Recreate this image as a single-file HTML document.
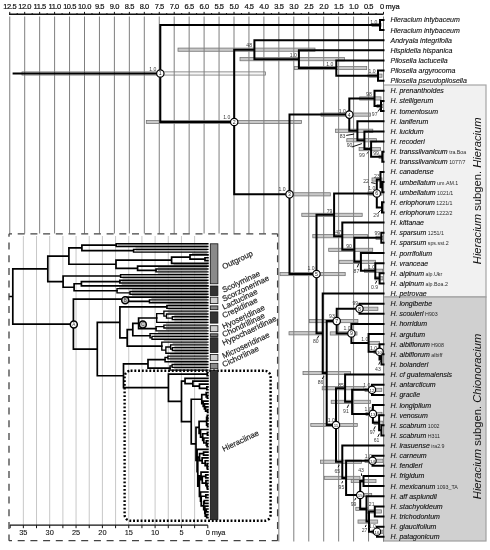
<!DOCTYPE html>
<html><head><meta charset="utf-8"><style>
html,body{margin:0;padding:0;background:#fff;}
svg{display:block;}
</style></head><body>
<svg width="490" height="550" viewBox="0 0 490 550" font-family="Liberation Sans, Arial, sans-serif">
<rect width="490" height="550" fill="#fff"/>
<rect x="383.6" y="85" width="102.4" height="212" fill="#f1f1f1" stroke="#a6a6a6" stroke-width="1.2"/>
<rect x="383.6" y="297" width="102.4" height="244" fill="#d0d0d0" stroke="#a0a0a0" stroke-width="1.2"/>
<line x1="9.0" y1="14.2" x2="383.5" y2="14.2" stroke="#111" stroke-width="1.4"/><line x1="383.50" y1="11.90" x2="383.50" y2="14.2" stroke="#111" stroke-width="1"/><line x1="376.02" y1="13.00" x2="376.02" y2="14.2" stroke="#111" stroke-width="1"/><line x1="368.55" y1="11.90" x2="368.55" y2="14.2" stroke="#111" stroke-width="1"/><line x1="361.07" y1="13.00" x2="361.07" y2="14.2" stroke="#111" stroke-width="1"/><line x1="353.60" y1="11.90" x2="353.60" y2="14.2" stroke="#111" stroke-width="1"/><line x1="346.12" y1="13.00" x2="346.12" y2="14.2" stroke="#111" stroke-width="1"/><line x1="338.65" y1="11.90" x2="338.65" y2="14.2" stroke="#111" stroke-width="1"/><line x1="331.18" y1="13.00" x2="331.18" y2="14.2" stroke="#111" stroke-width="1"/><line x1="323.70" y1="11.90" x2="323.70" y2="14.2" stroke="#111" stroke-width="1"/><line x1="316.23" y1="13.00" x2="316.23" y2="14.2" stroke="#111" stroke-width="1"/><line x1="308.75" y1="11.90" x2="308.75" y2="14.2" stroke="#111" stroke-width="1"/><line x1="301.27" y1="13.00" x2="301.27" y2="14.2" stroke="#111" stroke-width="1"/><line x1="293.80" y1="11.90" x2="293.80" y2="14.2" stroke="#111" stroke-width="1"/><line x1="286.32" y1="13.00" x2="286.32" y2="14.2" stroke="#111" stroke-width="1"/><line x1="278.85" y1="11.90" x2="278.85" y2="14.2" stroke="#111" stroke-width="1"/><line x1="271.38" y1="13.00" x2="271.38" y2="14.2" stroke="#111" stroke-width="1"/><line x1="263.90" y1="11.90" x2="263.90" y2="14.2" stroke="#111" stroke-width="1"/><line x1="256.43" y1="13.00" x2="256.43" y2="14.2" stroke="#111" stroke-width="1"/><line x1="248.95" y1="11.90" x2="248.95" y2="14.2" stroke="#111" stroke-width="1"/><line x1="241.47" y1="13.00" x2="241.47" y2="14.2" stroke="#111" stroke-width="1"/><line x1="234.00" y1="11.90" x2="234.00" y2="14.2" stroke="#111" stroke-width="1"/><line x1="226.53" y1="13.00" x2="226.53" y2="14.2" stroke="#111" stroke-width="1"/><line x1="219.05" y1="11.90" x2="219.05" y2="14.2" stroke="#111" stroke-width="1"/><line x1="211.58" y1="13.00" x2="211.58" y2="14.2" stroke="#111" stroke-width="1"/><line x1="204.10" y1="11.90" x2="204.10" y2="14.2" stroke="#111" stroke-width="1"/><line x1="196.62" y1="13.00" x2="196.62" y2="14.2" stroke="#111" stroke-width="1"/><line x1="189.15" y1="11.90" x2="189.15" y2="14.2" stroke="#111" stroke-width="1"/><line x1="181.68" y1="13.00" x2="181.68" y2="14.2" stroke="#111" stroke-width="1"/><line x1="174.20" y1="11.90" x2="174.20" y2="14.2" stroke="#111" stroke-width="1"/><line x1="166.73" y1="13.00" x2="166.73" y2="14.2" stroke="#111" stroke-width="1"/><line x1="159.25" y1="11.90" x2="159.25" y2="14.2" stroke="#111" stroke-width="1"/><line x1="151.78" y1="13.00" x2="151.78" y2="14.2" stroke="#111" stroke-width="1"/><line x1="144.30" y1="11.90" x2="144.30" y2="14.2" stroke="#111" stroke-width="1"/><line x1="136.83" y1="13.00" x2="136.83" y2="14.2" stroke="#111" stroke-width="1"/><line x1="129.35" y1="11.90" x2="129.35" y2="14.2" stroke="#111" stroke-width="1"/><line x1="121.88" y1="13.00" x2="121.88" y2="14.2" stroke="#111" stroke-width="1"/><line x1="114.40" y1="11.90" x2="114.40" y2="14.2" stroke="#111" stroke-width="1"/><line x1="106.93" y1="13.00" x2="106.93" y2="14.2" stroke="#111" stroke-width="1"/><line x1="99.45" y1="11.90" x2="99.45" y2="14.2" stroke="#111" stroke-width="1"/><line x1="91.98" y1="13.00" x2="91.98" y2="14.2" stroke="#111" stroke-width="1"/><line x1="84.50" y1="11.90" x2="84.50" y2="14.2" stroke="#111" stroke-width="1"/><line x1="77.03" y1="13.00" x2="77.03" y2="14.2" stroke="#111" stroke-width="1"/><line x1="69.55" y1="11.90" x2="69.55" y2="14.2" stroke="#111" stroke-width="1"/><line x1="62.07" y1="13.00" x2="62.07" y2="14.2" stroke="#111" stroke-width="1"/><line x1="54.60" y1="11.90" x2="54.60" y2="14.2" stroke="#111" stroke-width="1"/><line x1="47.12" y1="13.00" x2="47.12" y2="14.2" stroke="#111" stroke-width="1"/><line x1="39.65" y1="11.90" x2="39.65" y2="14.2" stroke="#111" stroke-width="1"/><line x1="32.18" y1="13.00" x2="32.18" y2="14.2" stroke="#111" stroke-width="1"/><line x1="24.70" y1="11.90" x2="24.70" y2="14.2" stroke="#111" stroke-width="1"/><line x1="17.23" y1="13.00" x2="17.23" y2="14.2" stroke="#111" stroke-width="1"/><line x1="9.75" y1="11.90" x2="9.75" y2="14.2" stroke="#111" stroke-width="1"/>
<g font-size="7.5" letter-spacing="-0.45" fill="#111" stroke="#111" stroke-width="0.2"><text x="381.80" y="9.3" text-anchor="middle">0</text><text x="368.55" y="9.3" text-anchor="middle">0.5</text><text x="353.60" y="9.3" text-anchor="middle">1.0</text><text x="338.65" y="9.3" text-anchor="middle">1.5</text><text x="323.70" y="9.3" text-anchor="middle">2.0</text><text x="308.75" y="9.3" text-anchor="middle">2.5</text><text x="293.80" y="9.3" text-anchor="middle">3.0</text><text x="278.85" y="9.3" text-anchor="middle">3.5</text><text x="263.90" y="9.3" text-anchor="middle">4.0</text><text x="248.95" y="9.3" text-anchor="middle">4.5</text><text x="234.00" y="9.3" text-anchor="middle">5.0</text><text x="219.05" y="9.3" text-anchor="middle">5.5</text><text x="204.10" y="9.3" text-anchor="middle">6.0</text><text x="189.15" y="9.3" text-anchor="middle">6.5</text><text x="174.20" y="9.3" text-anchor="middle">7.0</text><text x="159.25" y="9.3" text-anchor="middle">7.5</text><text x="144.30" y="9.3" text-anchor="middle">8.0</text><text x="129.35" y="9.3" text-anchor="middle">8.5</text><text x="114.40" y="9.3" text-anchor="middle">9.0</text><text x="99.45" y="9.3" text-anchor="middle">9.5</text><text x="84.50" y="9.3" text-anchor="middle">10.0</text><text x="69.55" y="9.3" text-anchor="middle">10.5</text><text x="54.60" y="9.3" text-anchor="middle">11.0</text><text x="39.65" y="9.3" text-anchor="middle">11.5</text><text x="24.70" y="9.3" text-anchor="middle">12.0</text><text x="9.75" y="9.3" text-anchor="middle">12.5</text><text x="385.50" y="9.3" letter-spacing="0">mya</text></g>
<g fill="#c8c8c8" stroke="#707070" stroke-width="0.75"><rect x="22.0" y="71.88" width="243.6" height="3.2" fill="#f6f6f6"/><rect x="372.0" y="23.37" width="9.0" height="3.2"/><rect x="146.3" y="120.40" width="155.2" height="3.2"/><rect x="178.0" y="48.07" width="137.0" height="3.2"/><rect x="240.0" y="57.57" width="104.4" height="3.2"/><rect x="294.5" y="66.44" width="72.2" height="3.2"/><rect x="368.0" y="74.04" width="14.0" height="3.2"/><rect x="292.0" y="192.73" width="38.3" height="3.2"/><rect x="321.0" y="113.00" width="49.4" height="3.2"/><rect x="359.7" y="96.85" width="21.3" height="3.2"/><rect x="377.0" y="104.45" width="6.0" height="3.2"/><rect x="335.6" y="129.15" width="37.2" height="3.2"/><rect x="346.8" y="138.65" width="29.7" height="3.2"/><rect x="359.1" y="147.52" width="21.4" height="3.2"/><rect x="379.0" y="155.12" width="4.5" height="3.2"/><rect x="280.0" y="272.47" width="65.2" height="3.2"/><rect x="301.8" y="213.24" width="60.4" height="3.2"/><rect x="368.0" y="191.86" width="14.0" height="3.2"/><rect x="372.0" y="177.93" width="10.0" height="3.2"/><rect x="312.8" y="234.62" width="54.8" height="3.2"/><rect x="328.7" y="248.24" width="44.0" height="3.2"/><rect x="376.0" y="236.20" width="7.0" height="3.2"/><rect x="339.1" y="260.27" width="36.4" height="3.2"/><rect x="364.5" y="269.14" width="18.2" height="3.2"/><rect x="375.0" y="276.74" width="8.0" height="3.2"/><rect x="289.0" y="331.69" width="34.0" height="3.2"/><rect x="309.3" y="319.50" width="48.6" height="3.2"/><rect x="359.6" y="307.15" width="18.3" height="3.2"/><rect x="330.2" y="331.85" width="26.8" height="3.2"/><rect x="368.3" y="341.35" width="11.3" height="3.2"/><rect x="374.0" y="350.22" width="9.0" height="3.2"/><rect x="303.0" y="371.44" width="47.6" height="3.2"/><rect x="322.2" y="386.64" width="41.7" height="3.2"/><rect x="331.2" y="400.26" width="39.2" height="3.2"/><rect x="365.0" y="388.23" width="16.8" height="3.2"/><rect x="366.0" y="412.30" width="16.0" height="3.2"/><rect x="374.0" y="421.17" width="9.0" height="3.2"/><rect x="310.8" y="423.38" width="46.5" height="3.2"/><rect x="320.5" y="460.12" width="41.1" height="3.2"/><rect x="324.3" y="476.28" width="35.7" height="3.2"/><rect x="365.0" y="459.17" width="18.0" height="3.2"/><rect x="360.0" y="493.38" width="11.7" height="3.2"/><rect x="351.2" y="479.44" width="24.8" height="3.2"/><rect x="355.8" y="507.31" width="11.2" height="3.2"/><rect x="358.0" y="519.98" width="19.7" height="3.2"/><rect x="366.7" y="509.85" width="14.8" height="3.2"/><rect x="372.0" y="530.12" width="11.0" height="3.2"/></g>
<g stroke="#7f7f7f" stroke-width="1.0"><line x1="383.50" y1="16.5" x2="383.50" y2="541.5" /><line x1="368.55" y1="16.5" x2="368.55" y2="541.5" /><line x1="353.60" y1="16.5" x2="353.60" y2="541.5" /><line x1="338.65" y1="16.5" x2="338.65" y2="541.5" /><line x1="323.70" y1="16.5" x2="323.70" y2="541.5" /><line x1="308.75" y1="16.5" x2="308.75" y2="541.5" /><line x1="293.80" y1="16.5" x2="293.80" y2="541.5" /><line x1="278.85" y1="16.5" x2="278.85" y2="541.5" /><line x1="263.90" y1="16.5" x2="263.90" y2="234" /><line x1="248.95" y1="16.5" x2="248.95" y2="234" /><line x1="234.00" y1="16.5" x2="234.00" y2="234" /><line x1="219.05" y1="16.5" x2="219.05" y2="234" /><line x1="204.10" y1="16.5" x2="204.10" y2="234" /><line x1="189.15" y1="16.5" x2="189.15" y2="234" /><line x1="174.20" y1="16.5" x2="174.20" y2="234" /><line x1="159.25" y1="16.5" x2="159.25" y2="234" /><line x1="144.30" y1="16.5" x2="144.30" y2="234" /><line x1="129.35" y1="16.5" x2="129.35" y2="234" /><line x1="114.40" y1="16.5" x2="114.40" y2="234" /><line x1="99.45" y1="16.5" x2="99.45" y2="234" /><line x1="84.50" y1="16.5" x2="84.50" y2="234" /><line x1="69.55" y1="16.5" x2="69.55" y2="234" /><line x1="54.60" y1="16.5" x2="54.60" y2="234" /><line x1="39.65" y1="16.5" x2="39.65" y2="234" /><line x1="24.70" y1="16.5" x2="24.70" y2="234" /><line x1="9.75" y1="16.5" x2="9.75" y2="234" /></g>
<path d="M160.30 24.97V122.00M160.30 24.97H380.00M160.30 122.00H234.20M380.00 19.90V30.03M380.00 19.90H383.50M380.00 30.03H383.50M234.20 49.67V194.33M234.20 49.67H254.40M234.20 194.33H289.50M254.40 40.17V59.17M254.40 40.17H383.50M254.40 59.17H298.90M298.90 50.30V68.04M298.90 50.30H383.50M298.90 68.04H336.30M336.30 60.44V75.64M336.30 60.44H383.50M336.30 75.64H378.00M378.00 70.57V80.71M378.00 70.57H383.50M378.00 80.71H383.50M289.50 114.60V274.07M289.50 114.60H349.30M289.50 274.07H316.50M349.30 98.45V130.75M349.30 98.45H374.50M349.30 130.75H357.40M374.50 90.84V106.05M374.50 90.84H383.50M374.50 106.05H381.00M381.00 100.98V111.12M381.00 100.98H383.50M381.00 111.12H383.50M357.40 121.25V140.25M357.40 121.25H383.50M357.40 140.25H364.40M364.40 131.38V149.12M364.40 131.38H383.50M364.40 149.12H371.10M371.10 141.52V156.72M371.10 141.52H383.50M371.10 156.72H382.30M382.30 151.66V161.79M382.30 151.66H383.50M382.30 161.79H383.50M316.50 214.84V333.29M316.50 214.84H334.10M316.50 333.29H322.70M334.10 193.46V236.22M334.10 193.46H376.80M334.10 236.22H342.30M376.80 179.53V207.40M376.80 179.53H380.50M376.80 207.40H382.00M380.50 171.93V187.13M380.50 171.93H383.50M380.50 187.13H382.30M382.30 182.06V192.19M382.30 182.06H383.50M382.30 192.19H383.50M382.00 202.33V212.47M382.00 202.33H383.50M382.00 212.47H383.50M342.30 222.60V249.84M342.30 222.60H383.50M342.30 249.84H354.40M354.40 237.80V261.87M354.40 237.80H381.30M354.40 261.87H360.90M381.30 232.74V242.87M381.30 232.74H383.50M381.30 242.87H383.50M360.90 253.00V270.74M360.90 253.00H383.50M360.90 270.74H375.30M375.30 263.14V278.34M375.30 263.14H383.50M375.30 278.34H379.60M379.60 273.27V283.41M379.60 273.27H383.50M379.60 283.41H383.50M322.70 293.54V373.04M322.70 293.54H383.50M322.70 373.04H326.70M326.70 321.10V424.98M326.70 321.10H336.70M326.70 424.98H336.00M336.70 308.75V333.45M336.70 308.75H359.50M336.70 333.45H351.40M359.50 303.68V313.81M359.50 303.68H383.50M359.50 313.81H383.50M351.40 323.95V342.95M351.40 323.95H383.50M351.40 342.95H368.60M368.60 334.08V351.82M368.60 334.08H383.50M368.60 351.82H379.50M379.50 344.22V359.42M379.50 344.22H383.50M379.50 359.42H381.50M381.50 354.35V364.49M381.50 354.35H383.50M381.50 364.49H383.50M336.00 388.24V461.72M336.00 388.24H345.10M336.00 461.72H342.30M345.10 374.62V401.86M345.10 374.62H383.50M345.10 401.86H352.10M352.10 389.83V413.90M352.10 389.83H372.00M352.10 413.90H372.90M372.00 384.76V394.89M372.00 384.76H383.50M372.00 394.89H383.50M372.90 405.03V422.77M372.90 405.03H383.50M372.90 422.77H379.10M379.10 415.16V430.37M379.10 415.16H383.50M379.10 430.37H381.40M381.40 425.30V435.43M381.40 425.30H383.50M381.40 435.43H383.50M342.30 445.57V477.88M342.30 445.57H383.50M342.30 477.88H346.10M346.10 460.77V494.98M346.10 460.77H372.50M346.10 494.98H360.20M372.50 455.70V465.84M372.50 455.70H383.50M372.50 465.84H383.50M360.20 481.04V508.91M360.20 481.04H363.50M360.20 508.91H366.50M363.50 475.97V486.11M363.50 475.97H383.50M363.50 486.11H383.50M366.50 496.24V521.58M366.50 496.24H383.50M366.50 521.58H369.00M369.00 511.45V531.72M369.00 511.45H374.80M369.00 531.72H377.00M374.80 506.38V516.51M374.80 506.38H383.50M374.80 516.51H383.50M377.00 526.65V536.78M377.00 526.65H383.50M377.00 536.78H383.50M13.6 73.48H160.3" fill="none" stroke="#000" stroke-width="2.0" stroke-linecap="square"/>
<g fill="#222"><circle cx="160.30" cy="73.48" r="3.7" fill="#fff" stroke="#000" stroke-width="1.2"/><text x="160.30" y="75.38" text-anchor="middle" font-size="5.2">1</text><circle cx="234.20" cy="122.00" r="3.7" fill="#fff" stroke="#000" stroke-width="1.2"/><text x="234.20" y="123.90" text-anchor="middle" font-size="5.2">2</text><circle cx="289.50" cy="194.33" r="3.7" fill="#fff" stroke="#000" stroke-width="1.2"/><text x="289.50" y="196.23" text-anchor="middle" font-size="5.2">3</text><circle cx="349.30" cy="114.60" r="3.7" fill="#fff" stroke="#000" stroke-width="1.2"/><text x="349.30" y="116.50" text-anchor="middle" font-size="5.2">4</text><circle cx="316.50" cy="274.07" r="3.7" fill="#fff" stroke="#000" stroke-width="1.2"/><text x="316.50" y="275.97" text-anchor="middle" font-size="5.2">5</text><circle cx="376.80" cy="193.46" r="3.7" fill="#fff" stroke="#000" stroke-width="1.2"/><text x="376.80" y="195.36" text-anchor="middle" font-size="5.2">6</text><circle cx="336.70" cy="321.10" r="3.7" fill="#fff" stroke="#000" stroke-width="1.2"/><text x="336.70" y="323.00" text-anchor="middle" font-size="5.2">7</text><circle cx="359.50" cy="308.75" r="3.7" fill="#fff" stroke="#000" stroke-width="1.2"/><text x="359.50" y="310.65" text-anchor="middle" font-size="5.2">8</text><circle cx="351.40" cy="333.45" r="3.7" fill="#fff" stroke="#000" stroke-width="1.2"/><text x="351.40" y="335.35" text-anchor="middle" font-size="5.2">9</text><circle cx="379.50" cy="351.82" r="3.7" fill="#fff" stroke="#000" stroke-width="1.2"/><text x="379.50" y="353.72" text-anchor="middle" font-size="4.4">10</text><circle cx="336.00" cy="424.98" r="3.7" fill="#fff" stroke="#000" stroke-width="1.2"/><text x="336.00" y="426.88" text-anchor="middle" font-size="4.4">11</text><circle cx="372.00" cy="389.83" r="3.7" fill="#fff" stroke="#000" stroke-width="1.2"/><text x="372.00" y="391.73" text-anchor="middle" font-size="4.4">12</text><circle cx="372.90" cy="413.90" r="3.7" fill="#fff" stroke="#000" stroke-width="1.2"/><text x="372.90" y="415.80" text-anchor="middle" font-size="4.4">13</text><circle cx="372.50" cy="460.77" r="3.7" fill="#fff" stroke="#000" stroke-width="1.2"/><text x="372.50" y="462.67" text-anchor="middle" font-size="4.4">14</text><circle cx="360.20" cy="494.98" r="3.7" fill="#fff" stroke="#000" stroke-width="1.2"/><text x="360.20" y="496.88" text-anchor="middle" font-size="4.4">15</text><circle cx="377.00" cy="531.72" r="3.7" fill="#fff" stroke="#000" stroke-width="1.2"/><text x="377.00" y="533.62" text-anchor="middle" font-size="4.4">16</text></g>
<g font-size="5.1" fill="#3a3a3a"><text x="152.9" y="71.30" text-anchor="middle">1.0</text><text x="226.8" y="118.70" text-anchor="middle">1.0</text><text x="282.0" y="190.90" text-anchor="middle">1.0</text><text x="342.2" y="112.50" text-anchor="middle">1.0</text><text x="249.2" y="47.30" text-anchor="middle">48</text><text x="293.2" y="56.60" text-anchor="middle">1.0</text><text x="329.9" y="65.90" text-anchor="middle">1.0</text><text x="372.1" y="72.70" text-anchor="middle">1.0</text><text x="373.9" y="23.90" text-anchor="middle">1.0</text><text x="368.9" y="95.60" text-anchor="middle">98</text><text x="374.7" y="115.70" text-anchor="middle">97</text><text x="342.6" y="137.50" text-anchor="middle">83</text><text x="349.6" y="147.20" text-anchor="middle">90</text><text x="361.9" y="156.60" text-anchor="middle">99</text><text x="376.0" y="155.00" text-anchor="middle">99</text><text x="366.1" y="182.70" text-anchor="middle">22</text><text x="376.9" y="178.00" text-anchor="middle">23</text><text x="376.2" y="217.00" text-anchor="middle">29</text><text x="371.8" y="190.30" text-anchor="middle">1.0</text><text x="329.5" y="213.00" text-anchor="middle">79</text><text x="338.2" y="234.10" text-anchor="middle">47</text><text x="349.1" y="247.50" text-anchor="middle">90</text><text x="377.3" y="235.00" text-anchor="middle">99</text><text x="356.4" y="272.60" text-anchor="middle">87</text><text x="371.5" y="268.60" text-anchor="middle">1.0</text><text x="374.5" y="289.00" text-anchor="middle">0.9</text><text x="311.0" y="270.30" text-anchor="middle">1.0</text><text x="315.8" y="343.40" text-anchor="middle">80</text><text x="331.9" y="318.10" text-anchor="middle">93</text><text x="355.3" y="304.70" text-anchor="middle">99</text><text x="347.0" y="329.50" text-anchor="middle">1.0</text><text x="364.8" y="340.60" text-anchor="middle">1.0</text><text x="373.5" y="349.80" text-anchor="middle">1.0</text><text x="377.9" y="370.60" text-anchor="middle">43</text><text x="320.6" y="383.90" text-anchor="middle">86</text><text x="341.0" y="386.70" text-anchor="middle">85</text><text x="366.8" y="386.70" text-anchor="middle">1.0</text><text x="345.9" y="412.50" text-anchor="middle">91</text><text x="368.0" y="410.60" text-anchor="middle">1.0</text><text x="372.5" y="434.20" text-anchor="middle">97</text><text x="376.6" y="441.90" text-anchor="middle">61</text><text x="331.2" y="422.00" text-anchor="middle">1.0</text><text x="337.3" y="472.70" text-anchor="middle">65</text><text x="341.4" y="488.70" text-anchor="middle">95</text><text x="368.2" y="457.90" text-anchor="middle">1.0</text><text x="361.1" y="471.50" text-anchor="middle">43</text><text x="353.6" y="506.40" text-anchor="middle">99</text><text x="371.7" y="505.80" text-anchor="middle">21</text><text x="364.6" y="532.00" text-anchor="middle">27</text><text x="372.2" y="528.20" text-anchor="middle">1.0</text></g>
<path d="M378 111.5L381 107M346.2 135.4L354.1 134.1M351.8 147L361.9 143.6M366.6 153.7L368.4 152M371.2 182.6L375.6 183.5M378.2 212.8L380.7 210.3M357.3 267.3L358.7 263.6M375.5 283.6L376.7 280.9M317.1 338.6L318.9 335.6M378.7 364.6L380.5 361.1M322.2 379L323.9 376.2M347.2 407.9L348.7 404.6M373.7 429.6L375.3 426.3M377.8 436.9L379.4 433.7M338.1 467.3L339.3 464.8M341.8 483.3L342.6 481.2M361.5 473.4L361.5 475.9M354.7 500.3L355.8 498.1M365.3 527L366.2 524.8" stroke="#111" stroke-width="1.0" fill="none"/>
<g font-size="7" fill="#111" stroke="#111" stroke-width="0.12"><text x="390.5" y="22.40" font-style="italic">Hieracium intybaceum</text><text x="390.5" y="32.53" font-style="italic">Hieracium intybaceum</text><text x="390.5" y="42.67" font-style="italic">Andryala integrifolia</text><text x="390.5" y="52.80" font-style="italic">Hispidella hispanica</text><text x="390.5" y="62.94" font-style="italic">Pilosella lactucella</text><text x="390.5" y="73.07" font-style="italic">Pilosella argyrocoma</text><text x="390.5" y="83.21" font-style="italic">Pilosella pseudopilosella</text><text x="390.5" y="93.34" font-style="italic">H. prenanthoides</text><text x="390.5" y="103.48" font-style="italic">H. stelligerum</text><text x="390.5" y="113.62" font-style="italic">H. tomentosum</text><text x="390.5" y="123.75" font-style="italic">H. laniferum</text><text x="390.5" y="133.88" font-style="italic">H. lucidum</text><text x="390.5" y="144.02" font-style="italic">H. recoderi</text><text x="390.5" y="154.16"><tspan font-style="italic">H. transsilvanicum</tspan><tspan font-size="5.3" stroke="none" fill="#2a2a2a"> tra.Boa</tspan></text><text x="390.5" y="164.29"><tspan font-style="italic">H. transsilvanicum</tspan><tspan font-size="5.3" stroke="none" fill="#2a2a2a"> 1077/7</tspan></text><text x="390.5" y="174.43" font-style="italic">H. canadense</text><text x="390.5" y="184.56"><tspan font-style="italic">H. umbellatum</tspan><tspan font-size="5.3" stroke="none" fill="#2a2a2a"> um.AM.1</tspan></text><text x="390.5" y="194.69"><tspan font-style="italic">H. umbellatum</tspan><tspan font-size="5.3" stroke="none" fill="#2a2a2a"> 1021/1</tspan></text><text x="390.5" y="204.83"><tspan font-style="italic">H. eriophorum</tspan><tspan font-size="5.3" stroke="none" fill="#2a2a2a"> 1221/1</tspan></text><text x="390.5" y="214.97"><tspan font-style="italic">H. eriophorum</tspan><tspan font-size="5.3" stroke="none" fill="#2a2a2a"> 1222/2</tspan></text><text x="390.5" y="225.10" font-style="italic">H. kittanae</text><text x="390.5" y="235.24"><tspan font-style="italic">H. sparsum</tspan><tspan font-size="5.3" stroke="none" fill="#2a2a2a"> 1251/1</tspan></text><text x="390.5" y="245.37"><tspan font-style="italic">H. sparsum</tspan><tspan font-size="5.3" stroke="none" fill="#2a2a2a"> sps.sst.2</tspan></text><text x="390.5" y="255.50" font-style="italic">H. porrifolium</text><text x="390.5" y="265.64" font-style="italic">H. vranceae</text><text x="390.5" y="275.77"><tspan font-style="italic">H. alpinum</tspan><tspan font-size="5.3" stroke="none" fill="#2a2a2a"> alp.Ukr</tspan></text><text x="390.5" y="285.91"><tspan font-style="italic">H. alpinum</tspan><tspan font-size="5.3" stroke="none" fill="#2a2a2a"> alp.Boa.2</tspan></text><text x="390.5" y="296.04" font-style="italic">H. petrovae</text><text x="390.5" y="306.18" font-style="italic">H. longiberbe</text><text x="390.5" y="316.31"><tspan font-style="italic">H. scouleri</tspan><tspan font-size="5.3" stroke="none" fill="#2a2a2a"> H903</tspan></text><text x="390.5" y="326.45" font-style="italic">H. horridum</text><text x="390.5" y="336.58" font-style="italic">H. argutum</text><text x="390.5" y="346.72"><tspan font-style="italic">H. albiflorum</tspan><tspan font-size="5.3" stroke="none" fill="#2a2a2a"> H908</tspan></text><text x="390.5" y="356.85"><tspan font-style="italic">H. albiflorum</tspan><tspan font-size="5.3" stroke="none" fill="#2a2a2a"> albiff</tspan></text><text x="390.5" y="366.99" font-style="italic">H. bolanderi</text><text x="390.5" y="377.12" font-style="italic">H. cf guatemalensis</text><text x="390.5" y="387.26" font-style="italic">H. antarcticum</text><text x="390.5" y="397.39" font-style="italic">H. gracile</text><text x="390.5" y="407.53" font-style="italic">H. longipilum</text><text x="390.5" y="417.66" font-style="italic">H. venosum</text><text x="390.5" y="427.80"><tspan font-style="italic">H. scabrum</tspan><tspan font-size="5.3" stroke="none" fill="#2a2a2a"> 1002</tspan></text><text x="390.5" y="437.93"><tspan font-style="italic">H. scabrum</tspan><tspan font-size="5.3" stroke="none" fill="#2a2a2a"> H311</tspan></text><text x="390.5" y="448.07"><tspan font-style="italic">H. irasuense</tspan><tspan font-size="5.3" stroke="none" fill="#2a2a2a"> ira2.9</tspan></text><text x="390.5" y="458.20" font-style="italic">H. carneum</text><text x="390.5" y="468.34" font-style="italic">H. fendleri</text><text x="390.5" y="478.47" font-style="italic">H. frigidum</text><text x="390.5" y="488.61"><tspan font-style="italic">H. mexicanum</tspan><tspan font-size="5.3" stroke="none" fill="#2a2a2a"> 1093_TA</tspan></text><text x="390.5" y="498.74" font-style="italic">H. aff asplundii</text><text x="390.5" y="508.88" font-style="italic">H. stachyoideum</text><text x="390.5" y="519.01" font-style="italic">H. trichodontum</text><text x="390.5" y="529.15" font-style="italic">H. glaucifolium</text><text x="390.5" y="539.28" font-style="italic">H. patagonicum</text></g>
<text transform="translate(480.8 264.2) rotate(-90)" font-size="11.2" fill="#111"><tspan font-style="italic">Hieracium</tspan> subgen. <tspan font-style="italic">Hieracium</tspan></text>
<text transform="translate(480.8 499.2) rotate(-90)" font-size="11.2" fill="#111"><tspan font-style="italic">Hieracium</tspan> subgen. <tspan font-style="italic">Chionoracium</tspan></text>
<rect x="9" y="233.5" width="268.6" height="307.2" fill="#fff" stroke="none"/>
<g stroke="#c8c8c8" stroke-width="1"><line x1="194.62" y1="236" x2="194.62" y2="525" /><line x1="181.45" y1="236" x2="181.45" y2="525" /><line x1="168.28" y1="236" x2="168.28" y2="525" /><line x1="155.10" y1="236" x2="155.10" y2="525" /><line x1="141.93" y1="236" x2="141.93" y2="525" /><line x1="128.75" y1="236" x2="128.75" y2="525" /><line x1="115.58" y1="236" x2="115.58" y2="525" /><line x1="102.40" y1="236" x2="102.40" y2="525" /><line x1="89.23" y1="236" x2="89.23" y2="525" /><line x1="76.05" y1="236" x2="76.05" y2="525" /><line x1="62.88" y1="236" x2="62.88" y2="525" /><line x1="49.70" y1="236" x2="49.70" y2="525" /><line x1="36.53" y1="236" x2="36.53" y2="525" /><line x1="23.35" y1="236" x2="23.35" y2="525" /></g>
<g fill="#a8a8a8"><rect x="118.10" y="244.50" width="89.20" height="1.2"/><rect x="135.50" y="247.31" width="71.80" height="1.2"/><rect x="135.50" y="250.12" width="71.80" height="1.2"/><rect x="192.00" y="252.94" width="15.30" height="1.2"/><rect x="207.00" y="255.75" width="0.30" height="1.2"/><rect x="207.00" y="258.55" width="0.30" height="1.2"/><rect x="207.00" y="261.37" width="0.30" height="1.2"/><rect x="173.60" y="264.17" width="33.70" height="1.2"/><rect x="157.90" y="266.99" width="49.40" height="1.2"/><rect x="157.90" y="269.79" width="49.40" height="1.2"/><rect x="157.90" y="272.61" width="49.40" height="1.2"/><rect x="122.50" y="275.41" width="84.80" height="1.2"/><rect x="122.50" y="278.23" width="84.80" height="1.2"/><rect x="121.70" y="281.03" width="85.60" height="1.2"/><rect x="121.70" y="283.85" width="85.60" height="1.2"/><rect x="119.00" y="286.65" width="88.30" height="1.2"/><rect x="131.97" y="289.47" width="75.33" height="1.2"/><rect x="131.97" y="292.27" width="75.33" height="1.2"/><rect x="131.97" y="295.08" width="75.33" height="1.2"/><rect x="151.40" y="297.89" width="55.90" height="1.2"/><rect x="151.40" y="300.70" width="55.90" height="1.2"/><rect x="168.80" y="303.51" width="38.50" height="1.2"/><rect x="168.80" y="306.32" width="38.50" height="1.2"/><rect x="168.80" y="309.13" width="38.50" height="1.2"/><rect x="168.50" y="311.94" width="38.80" height="1.2"/><rect x="174.29" y="314.75" width="33.01" height="1.2"/><rect x="174.29" y="317.56" width="33.01" height="1.2"/><rect x="174.29" y="320.38" width="33.01" height="1.2"/><rect x="165.90" y="323.18" width="41.40" height="1.2"/><rect x="165.90" y="326.00" width="41.40" height="1.2"/><rect x="165.90" y="328.80" width="41.40" height="1.2"/><rect x="158.00" y="331.62" width="49.30" height="1.2"/><rect x="154.01" y="334.42" width="53.29" height="1.2"/><rect x="154.01" y="337.24" width="53.29" height="1.2"/><rect x="163.80" y="340.04" width="43.50" height="1.2"/><rect x="172.59" y="342.86" width="34.71" height="1.2"/><rect x="174.40" y="345.66" width="32.90" height="1.2"/><rect x="174.40" y="348.48" width="32.90" height="1.2"/><rect x="174.40" y="351.28" width="32.90" height="1.2"/><rect x="169.90" y="354.10" width="37.40" height="1.2"/><rect x="169.90" y="356.90" width="37.40" height="1.2"/><rect x="169.90" y="359.72" width="37.40" height="1.2"/><rect x="174.11" y="362.52" width="33.19" height="1.2"/><rect x="174.11" y="365.33" width="33.19" height="1.2"/><rect x="174.11" y="368.14" width="33.19" height="1.2"/></g><path d="M207.18 372.70H207.90M207.18 375.54H207.90M207.18 372.70V375.54M206.83 386.90H207.90M206.83 389.74H207.90M206.83 386.90V389.74M199.48 384.06H207.90M199.48 388.32H206.83M199.48 384.06V388.32M192.89 381.22H207.90M192.89 386.19H199.48M192.89 381.22V386.19M185.05 378.38H207.90M185.05 383.70H192.89M185.05 378.38V383.70M207.36 395.42H207.90M207.36 398.26H207.90M207.36 395.42V398.26M206.21 392.58H207.90M206.21 396.84H207.36M206.21 392.58V396.84M207.59 409.62H207.90M207.59 412.46H207.90M207.59 409.62V412.46M205.61 406.78H207.90M205.61 411.04H207.59M205.61 406.78V411.04M204.43 403.94H207.90M204.43 408.91H205.61M204.43 403.94V408.91M203.20 401.10H207.90M203.20 406.42H204.43M203.20 401.10V406.42M201.77 394.71H206.21M201.77 403.76H203.20M201.77 394.71V403.76M207.59 418.14H207.90M207.59 420.98H207.90M207.59 418.14V420.98M207.27 415.30H207.90M207.27 419.56H207.59M207.27 415.30V419.56M207.54 423.82H207.90M207.54 426.66H207.90M207.54 423.82V426.66M206.62 417.43H207.27M206.62 425.24H207.54M206.62 417.43V425.24M207.41 432.34H207.90M207.41 435.18H207.90M207.41 432.34V435.18M207.11 443.70H207.90M207.11 446.54H207.90M207.11 443.70V446.54M206.35 440.86H207.90M206.35 445.12H207.11M206.35 440.86V445.12M203.82 438.02H207.90M203.82 442.99H206.35M203.82 438.02V442.99M202.67 433.76H207.41M202.67 440.50H203.82M202.67 433.76V440.50M200.54 429.50H207.90M200.54 437.13H202.67M200.54 429.50V437.13M199.09 421.33H206.62M199.09 433.32H200.54M199.09 421.33V433.32M203.57 452.22H207.90M203.57 455.06H207.90M203.57 452.22V455.06M207.45 466.42H207.90M207.45 469.26H207.90M207.45 466.42V469.26M207.09 463.58H207.90M207.09 467.84H207.45M207.09 463.58V467.84M205.17 460.74H207.90M205.17 465.71H207.09M205.17 460.74V465.71M202.14 457.90H207.90M202.14 463.23H205.17M202.14 457.90V463.23M199.55 453.64H203.57M199.55 460.56H202.14M199.55 453.64V460.56M205.77 474.94H207.90M205.77 477.78H207.90M205.77 474.94V477.78M207.43 486.30H207.90M207.43 489.14H207.90M207.43 486.30V489.14M207.02 483.46H207.90M207.02 487.72H207.43M207.02 483.46V487.72M205.93 480.62H207.90M205.93 485.59H207.02M205.93 480.62V485.59M202.27 476.36H205.77M202.27 483.11H205.93M202.27 476.36V483.11M201.03 472.10H207.90M201.03 479.73H202.27M201.03 472.10V479.73M205.86 494.82H207.90M205.86 497.66H207.90M205.86 494.82V497.66M204.27 500.50H207.90M204.27 503.34H207.90M204.27 500.50V503.34M206.27 509.02H207.90M206.27 511.86H207.90M206.27 509.02V511.86M206.65 514.70H207.90M206.65 517.54H207.90M206.65 514.70V517.54M205.24 510.44H206.27M205.24 516.12H206.65M205.24 510.44V516.12M204.80 506.18H207.90M204.80 513.28H205.24M204.80 506.18V513.28M203.69 501.92H204.27M203.69 509.73H204.80M203.69 501.92V509.73M201.21 496.24H205.86M201.21 505.82H203.69M201.21 496.24V505.82M200.54 491.98H207.90M200.54 501.03H201.21M200.54 491.98V501.03M199.43 475.92H201.03M199.43 496.51H200.54M199.43 475.92V496.51M197.79 457.10H199.55M197.79 486.21H199.43M197.79 457.10V486.21M197.08 449.38H207.90M197.08 471.66H197.79M197.08 449.38V471.66M195.99 427.33H199.09M195.99 460.52H197.08M195.99 427.33V460.52M191.23 399.24H201.77M191.23 443.92H195.99M191.23 399.24V443.92M181.49 381.04H185.05M181.49 421.58H191.23M181.49 381.04V421.58M168.46 374.12H207.18M168.46 401.31H181.49M168.46 374.12V401.31M81.90 245.10H116.10M81.90 250.72H133.50M81.90 245.10V250.72M190.00 254.94H207.90M205.00 257.75H207.90M205.00 260.56H207.90M205.00 257.75V260.56M190.00 259.15H205.00M190.00 254.94V259.15M171.60 263.37H207.90M171.60 257.05H190.00M171.60 257.05V263.37M137.60 266.18H207.90M137.60 270.39H155.90M137.60 266.18V270.39M116.00 260.21H171.60M116.00 268.29H137.60M116.00 260.21V268.29M68.90 247.91H81.90M68.90 264.25H116.00M68.90 247.91V264.25M81.40 285.85H207.90M81.40 281.63H119.70M81.40 281.63V285.85M74.10 283.74H81.40M74.10 290.77H117.00M74.10 283.74V290.77M63.10 276.01H120.50M63.10 287.25H74.10M63.10 276.01V287.25M47.80 256.08H68.90M47.80 281.63H63.10M47.80 256.08V281.63M124.90 297.09H207.90M124.90 301.30H149.40M124.90 297.09V301.30M138.60 317.99H156.70M138.60 328.70H156.00M138.60 317.99V328.70M132.80 323.35H138.60M132.80 335.73H150.00M132.80 323.35V335.73M127.20 329.54H132.80M127.20 346.09H161.80M127.20 329.54V346.09M119.90 306.92H166.80M119.90 337.81H127.20M119.90 306.92V337.81M148.00 359.61H165.00M148.00 368.04H170.00M148.00 359.61V368.04M123.50 363.83H148.00M123.50 387.72H168.46M123.50 363.83V387.72M97.30 322.37H119.90M97.30 375.77H123.50M97.30 322.37V375.77M73.40 299.20H124.90M73.40 349.07H97.30M73.40 299.20V349.07M12.80 268.86H47.80M12.80 324.13H73.40M12.80 268.86V324.13M9.80 296.50H12.80" fill="none" stroke="#000" stroke-width="1.7" stroke-linecap="square"/><path d="M116.10 243.70H207.90M116.10 246.51H207.90M116.10 243.70V246.51M133.50 249.32H207.90M133.50 252.13H207.90M133.50 249.32V252.13M155.90 268.99H207.90M155.90 271.80H207.90M155.90 268.99V271.80M120.50 274.61H207.90M120.50 277.42H207.90M120.50 274.61V277.42M119.70 280.23H207.90M119.70 283.04H207.90M119.70 280.23V283.04M117.00 288.66H207.90M129.97 291.47H207.90M129.97 294.28H207.90M129.97 291.47V294.28M117.00 292.88H129.97M117.00 288.66V292.88M149.40 299.90H207.90M149.40 302.71H207.90M149.40 299.90V302.71M166.80 305.52H207.90M166.80 308.33H207.90M166.80 305.52V308.33M163.89 311.14H207.90M166.50 313.95H207.90M172.29 316.76H207.90M172.29 319.57H207.90M172.29 316.76V319.57M166.50 318.16H172.29M166.50 313.95V318.16M163.89 316.06H166.50M163.89 311.14V316.06M156.70 313.60H163.89M156.70 322.38H207.90M156.70 313.60V322.38M163.90 325.19H207.90M163.90 328.00H207.90M163.90 325.19V328.00M156.00 326.60H163.90M156.00 330.81H207.90M156.00 326.60V330.81M150.00 333.62H207.90M152.01 336.43H207.90M152.01 339.24H207.90M152.01 336.43V339.24M150.00 337.84H152.01M150.00 333.62V337.84M161.80 342.05H207.90M170.59 344.86H207.90M172.40 347.67H207.90M172.40 350.48H207.90M172.40 347.67V350.48M170.59 349.07H172.40M170.59 344.86V349.07M165.86 346.97H170.59M165.86 353.29H207.90M165.86 346.97V353.29M161.80 350.13H165.86M161.80 342.05V350.13M167.90 356.10H207.90M167.90 358.91H207.90M167.90 356.10V358.91M165.00 357.50H167.90M165.00 361.72H207.90M165.00 357.50V361.72M172.11 364.53H207.90M172.11 367.34H207.90M172.11 364.53V367.34M170.00 365.93H172.11M170.00 370.15H207.90M170.00 365.93V370.15" fill="none" stroke="#000" stroke-width="1.35" stroke-linecap="square"/><circle cx="73.8" cy="324.5" r="3.5" fill="#fff" stroke="#000" stroke-width="1.5"/><text x="73.8" y="326.2" text-anchor="middle" font-size="4.6" fill="#444">A</text><circle cx="125.2" cy="300.2" r="3.5" fill="#c8c8c8" stroke="#000" stroke-width="1.5"/><text x="125.2" y="301.9" text-anchor="middle" font-size="4.6" fill="#444">B</text><circle cx="142.8" cy="324.4" r="3.5" fill="#c8c8c8" stroke="#000" stroke-width="1.5"/><text x="142.8" y="326.09999999999997" text-anchor="middle" font-size="4.6" fill="#444">C</text>
<line x1="9.8" y1="525.2" x2="207.8" y2="525.2" stroke="#111" stroke-width="1.2"/><line x1="207.80" y1="525.2" x2="207.80" y2="528.2" stroke="#111" stroke-width="1"/><line x1="194.62" y1="525.2" x2="194.62" y2="528.2" stroke="#111" stroke-width="1"/><line x1="181.45" y1="525.2" x2="181.45" y2="528.2" stroke="#111" stroke-width="1"/><line x1="168.28" y1="525.2" x2="168.28" y2="528.2" stroke="#111" stroke-width="1"/><line x1="155.10" y1="525.2" x2="155.10" y2="528.2" stroke="#111" stroke-width="1"/><line x1="141.93" y1="525.2" x2="141.93" y2="528.2" stroke="#111" stroke-width="1"/><line x1="128.75" y1="525.2" x2="128.75" y2="528.2" stroke="#111" stroke-width="1"/><line x1="115.58" y1="525.2" x2="115.58" y2="528.2" stroke="#111" stroke-width="1"/><line x1="102.40" y1="525.2" x2="102.40" y2="528.2" stroke="#111" stroke-width="1"/><line x1="89.23" y1="525.2" x2="89.23" y2="528.2" stroke="#111" stroke-width="1"/><line x1="76.05" y1="525.2" x2="76.05" y2="528.2" stroke="#111" stroke-width="1"/><line x1="62.88" y1="525.2" x2="62.88" y2="528.2" stroke="#111" stroke-width="1"/><line x1="49.70" y1="525.2" x2="49.70" y2="528.2" stroke="#111" stroke-width="1"/><line x1="36.53" y1="525.2" x2="36.53" y2="528.2" stroke="#111" stroke-width="1"/><line x1="23.35" y1="525.2" x2="23.35" y2="528.2" stroke="#111" stroke-width="1"/><line x1="10.18" y1="525.2" x2="10.18" y2="528.2" stroke="#111" stroke-width="1"/>
<g font-size="7.4" fill="#111" stroke="#111" stroke-width="0.1"><text x="207.80" y="535.2" text-anchor="middle">0</text><text x="181.45" y="535.2" text-anchor="middle">5</text><text x="155.10" y="535.2" text-anchor="middle">10</text><text x="128.75" y="535.2" text-anchor="middle">15</text><text x="102.40" y="535.2" text-anchor="middle">20</text><text x="76.05" y="535.2" text-anchor="middle">25</text><text x="49.70" y="535.2" text-anchor="middle">30</text><text x="23.35" y="535.2" text-anchor="middle">35</text><text x="211.70" y="535.3" letter-spacing="-0.2">mya</text></g>
<g fill="none" stroke="#444" stroke-width="1.3" stroke-dasharray="7,5.7" stroke-dashoffset="4"><path d="M9 233.8H277.6"/><path d="M9 233.8V540.7"/><path d="M277.6 233.8V540.7"/><path d="M9 540.7H277.6"/></g>
<rect x="124.6" y="370.8" width="146" height="150" rx="6" fill="none" stroke="#000" stroke-width="2.4" stroke-dasharray="1.9,1.85"/>
<g stroke="#111" stroke-width="0.8"><rect x="210.3" y="243.8" width="7.6" height="40.0" fill="#8a8a8a"/><rect x="210.3" y="286" width="7.6" height="9.5" fill="#333"/><rect x="210.3" y="297.2" width="7.6" height="6.4" fill="#cfcfcf"/><rect x="210.3" y="305.9" width="7.6" height="3.8" fill="#8a8a8a"/><rect x="210.3" y="311.9" width="7.6" height="11.2" fill="#333"/><rect x="210.3" y="325.7" width="7.6" height="6.0" fill="#cfcfcf"/><rect x="210.3" y="333.8" width="7.6" height="2.8" fill="#777"/><rect x="210.3" y="337.8" width="7.6" height="14.6" fill="#333"/><rect x="210.3" y="354.5" width="7.6" height="6.2" fill="#cfcfcf"/><rect x="210.3" y="363.3" width="7.6" height="5.5" fill="#8a8a8a"/><rect x="210.3" y="370.5" width="7.6" height="149.2" fill="#333"/></g>
<g font-size="7.9" fill="#222" stroke="#222" stroke-width="0.18"><text transform="translate(223.8 269.5) rotate(-25.5)">Outgroup</text><text transform="translate(223.8 292.8) rotate(-25.5)">Scolyminae</text><text transform="translate(223.8 301.8) rotate(-25.5)">Scorzonerinae</text><text transform="translate(223.8 309.8) rotate(-25.5)">Lactucinae</text><text transform="translate(223.8 318.3) rotate(-25.5)">Crepidinae</text><text transform="translate(223.8 329.3) rotate(-25.5)">Hyoseridinae</text><text transform="translate(223.8 337.3) rotate(-25.5)">Chondrillinae</text><text transform="translate(223.8 345.8) rotate(-25.5)">Hypochaeridinae</text><text transform="translate(223.8 358.8) rotate(-25.5)">Microseridinae</text><text transform="translate(223.8 367.3) rotate(-25.5)">Cichoriinae</text><text transform="translate(223.8 451.8) rotate(-25.5)">Hieraciinae</text></g>
</svg>
</body></html>
